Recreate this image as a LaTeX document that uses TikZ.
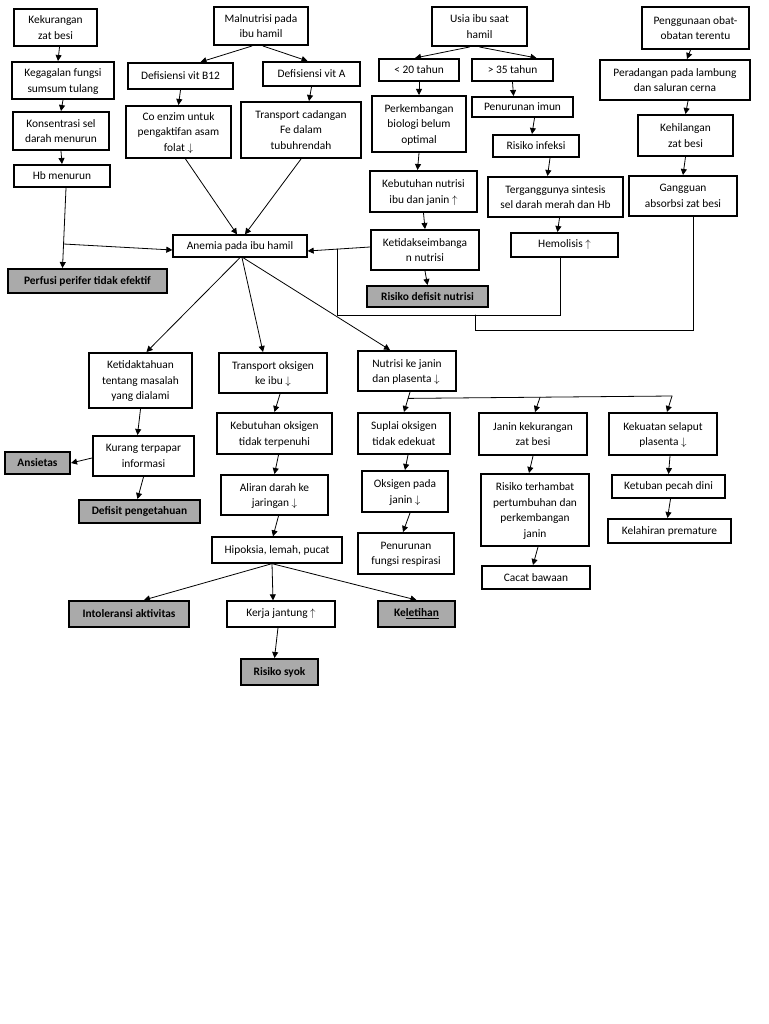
\documentclass[tikz,border=0pt]{standalone}
\usepackage{fontspec}
\setmainfont{Carlito}
\usetikzlibrary{arrows.meta}
\definecolor{dxgray}{RGB}{170,170,170}

\begin{document}
\begin{tikzpicture}[x=1pt,y=-1pt,>={Triangle[length=6pt,width=6pt]},line cap=round,
  font=\fontsize{11.4}{15.5}\selectfont,
  box/.style={draw,line width=2pt,fill=white,align=center,inner sep=0pt},
  mbox/.style={box,text depth=-8pt},
  lbox/.style={box,line width=1.3pt},
  dx/.style={box,fill=dxgray,font=\fontsize{11.4}{15.5}\selectfont\bfseries},
  wh/.style 2 args={minimum width=#1,minimum height=#2},
  arr/.style={->,line width=0.8pt}]
\useasboundingbox (0,0) rectangle (768,1024);
% left column
\node[mbox,wh={83}{37}] (kurangfe) at (55.5,27.5) {Kekurangan\\zat besi};
\node[mbox,wh={102}{37}] (gagal) at (63,80.5) {Kegagalan fungsi\\sumsum tulang};
\node[mbox,wh={96}{38}] (konsen) at (61,131) {Konsentrasi sel\\darah menurun};
\node[box,wh={96}{22}] (hb) at (62,176) {Hb menurun};
\node[dx,wh={159}{24}] (perfusi) at (87.5,281) {Perfusi perifer tidak efektif};
% malnutrisi
\node[mbox,wh={94}{38}] (malnut) at (261,26) {Malnutrisi pada\\ibu hamil};
\node[box,wh={105}{26}] (b12) at (180.5,76) {Defisiensi vit B12};
\node[box,wh={97}{24}] (vita) at (311.5,74) {Defisiensi vit A};
\node[mbox,wh={105}{52}] (coenzim) at (178.5,132) {Co enzim untuk\\pengaktifan asam\\folat $\downarrow$};
\node[mbox,wh={120}{56}] (transfe) at (301,130) {Transport cadangan\\Fe dalam\\tubuhrendah};
\node[lbox,wh={134}{22}] (anemia) at (240,246) {Anemia pada ibu hamil};
% usia ibu
\node[mbox,wh={95}{39}] (usia) at (479.5,26.5) {Usia ibu saat\\hamil};
\node[box,wh={80}{22}] (kurang20) at (419,70) {< 20 tahun};
\node[box,wh={81}{22}] (lebih35) at (512.5,70) {> 35 tahun};
\node[mbox,wh={94}{56}] (perkemb) at (419,124) {Perkembangan\\biologi belum\\optimal};
\node[box,wh={101}{20}] (imun) at (522.5,107) {Penurunan imun};
\node[box,wh={86}{22}] (infeksi) at (536,146) {Risiko infeksi};
\node[mbox,wh={107}{41}] (butuhnut) at (423.5,191.5) {Kebutuhan nutrisi\\ibu dan janin $\uparrow$};
\node[mbox,wh={135}{40}] (sintesis) at (555.5,197) {Terganggunya sintesis\\sel darah merah dan Hb};
\node[mbox,wh={108}{40}] (seimbang) at (425,250) {Ketidakseimbanga\\n nutrisi};
\node[box,wh={107}{24}] (hemolisis) at (564.5,245) {Hemolisis $\uparrow$};
\node[dx,wh={121}{21}] (risdefnut) at (427.5,296.5) {Risiko defisit nutrisi};
% obat
\node[mbox,wh={107}{42}] (obat) at (695.5,28) {Penggunaan obat-\\obatan terentu};
\node[mbox,wh={150}{40}] (radang) at (675,80) {Peradangan pada lambung\\dan saluran cerna};
\node[mbox,wh={95}{41}] (hilangfe) at (685.5,135.5) {Kehilangan\\zat besi};
\node[mbox,wh={108}{40}] (gangguan) at (683,196) {Gangguan\\absorbsi zat besi};
% dampak
\node[mbox,wh={103}{55}] (tahu) at (140.5,380.5) {Ketidaktahuan\\tentang masalah\\yang dialami};
\node[mbox,wh={101}{40}] (terpapar) at (143.5,456) {Kurang terpapar\\informasi};
\node[dx,wh={65}{22}] (ansietas) at (37.5,463) {Ansietas};
\node[dx,wh={121}{23}] (defpeng) at (139.5,511.5) {Defisit pengetahuan};
\node[mbox,wh={108}{40}] (transox) at (273,373) {Transport oksigen\\ke ibu $\downarrow$};
\node[mbox,wh={115}{41}] (butuhox) at (274.5,433.5) {Kebutuhan oksigen\\tidak terpenuhi};
\node[mbox,wh={107}{40}] (aliran) at (274.5,495) {Aliran darah ke\\jaringan $\downarrow$};
\node[lbox,wh={130}{26}] (hipoksia) at (277,550) {Hipoksia, lemah, pucat};
\node[dx,wh={120}{26}] (intol) at (129,614) {Intoleransi aktivitas};
\node[lbox,wh={108}{26}] (jantung) at (281,614) {Kerja jantung $\uparrow$};
\node[dx,wh={77}{26}] (letih) at (416.5,614) {Ke\underline{letihan}};
\node[dx,wh={77}{26}] (syok) at (279.5,672) {Risiko syok};
\node[mbox,wh={98}{40},align=left] (nutjanin) at (407,371) {Nutrisi ke janin\\dan plasenta $\downarrow$};
\node[mbox,wh={92}{41}] (suplai) at (404,433.5) {Suplai oksigen\\tidak edekuat};
\node[mbox,wh={86}{41}] (oksjanin) at (405,491.5) {Oksigen pada\\janin $\downarrow$};
\node[mbox,wh={96}{41}] (respirasi) at (406,553.5) {Penurunan\\fungsi respirasi};
\node[mbox,wh={108}{42}] (janinfe) at (533,434) {Janin kekurangan\\zat besi};
\node[mbox,wh={108}{72}] (hambat) at (535,510) {Risiko terhambat\\pertumbuhan dan\\perkembangan\\janin};
\node[box,wh={108}{23}] (cacat) at (536,577.5) {Cacat bawaan};
\node[mbox,wh={108}{42}] (selaput) at (663,434) {Kekuatan selaput\\plasenta $\downarrow$};
\node[box,wh={113}{23}] (ketuban) at (668.5,486.5) {Ketuban pecah dini};
\node[box,wh={123}{24}] (prematur) at (669.5,531) {Kelahiran premature};
% arrows, upper half
\draw[arr] ([xshift=4]kurangfe.south) -- ([xshift=-5]gagal.north);
\draw[arr] (gagal.south) -- (konsen.north);
\draw[arr] (konsen.south) -- (hb.north);
\draw[arr] ([xshift=4]hb.south) -- coordinate[pos=0.7] (hbfork) ([xshift=-25]perfusi.north);
\draw[arr] (hbfork) -- ([yshift=-4]anemia.west);
\draw[arr] ([xshift=-9]malnut.south) -- ([xshift=20]b12.north);
\draw[arr] ([xshift=2]malnut.south) -- ([xshift=-4]vita.north);
\draw[arr] (b12.south) -- (coenzim.north);
\draw[arr] (vita.south) -- ([xshift=8]transfe.north);
\draw[arr] ([xshift=7]coenzim.south) -- ([xshift=-3]anemia.north);
\draw[arr] (transfe.south) -- ([xshift=5]anemia.north);
\draw[arr] ([xshift=-10]usia.south) -- ([xshift=-4]kurang20.north);
\draw[arr] (usia.south) -- ([xshift=24]lebih35.north);
\draw[arr] (kurang20.south) -- (perkemb.north);
\draw[arr] (lebih35.south) -- ([xshift=-9]imun.north);
\draw[arr] ([xshift=12]imun.south) -- ([xshift=-4]infeksi.north);
\draw[arr] ([xshift=14]infeksi.south) -- ([xshift=-8]sintesis.north);
\draw[arr] (perkemb.south) -- ([xshift=-6]butuhnut.north);
\draw[arr] (butuhnut.south) -- (seimbang.north);
\draw[arr] (seimbang.south) -- (risdefnut.north);
\draw[arr] ([xshift=4]sintesis.south) -- ([xshift=-7]hemolisis.north);
\draw[arr] ([yshift=3]seimbang.west) -- coordinate[pos=0.52] (seimfork) ([yshift=-5]anemia.east);
\draw[line width=0.8pt] (seimfork) -- ++(0,66) -| coordinate[pos=0.31] (brfork) ([xshift=-4]hemolisis.south);
\draw[line width=0.8pt] (brfork) -- ++(0,15) -| ([xshift=10]gangguan.south);
\draw[arr] ([xshift=-5]obat.south) -- ([xshift=12]radang.north);
\draw[arr] ([xshift=13]radang.south) -- (hilangfe.north);
\draw[arr] (hilangfe.south) -- (gangguan.north);
% arrows, lower half
\draw[arr] (anemia.south) -- ([xshift=6]tahu.north);
\draw[arr] ([xshift=2]anemia.south) -- ([xshift=-10]transox.north);
\draw[arr] ([xshift=3]anemia.south) -- ([xshift=-17]nutjanin.north);
\draw[arr] (tahu.south) -- ([xshift=-6]terpapar.north);
\draw[arr] ([yshift=-2]terpapar.west) -- (ansietas.east);
\draw[arr] (terpapar.south) -- ([xshift=-2]defpeng.north);
\draw[arr] ([xshift=7]transox.south) -- (butuhox.north);
\draw[arr] ([xshift=4]butuhox.south) -- (aliran.north);
\draw[arr] ([xshift=4]aliran.south) -- ([xshift=-4]hipoksia.north);
\draw[arr] ([xshift=-5]hipoksia.south) -- ([xshift=15]intol.north);
\draw[arr] ([xshift=-5]hipoksia.south) -- ([xshift=-8]jantung.north);
\draw[arr] ([xshift=-5]hipoksia.south) -- (letih.north);
\draw[arr] ([xshift=-3]jantung.south) -- ([xshift=-5]syok.north);
\draw[arr] ([xshift=3]nutjanin.south) -- coordinate[pos=0.32] (nutfork) (suplai.north);
\coordinate (nutend) at (672,396);
\draw[line width=0.8pt] (nutfork) -- coordinate[pos=0.5] (janfork) (nutend);
\draw[arr] (janfork) -- ([xshift=2]janinfe.north);
\draw[arr] (nutend) -- ([xshift=4]selaput.north);
\draw[arr] ([xshift=4]suplai.south) -- (oksjanin.north);
\draw[arr] ([xshift=5]oksjanin.south) -- ([xshift=-3]respirasi.north);
\draw[arr] (janinfe.south) -- ([xshift=-6]hambat.north);
\draw[arr] ([xshift=3]hambat.south) -- ([xshift=-3]cacat.north);
\draw[arr] ([xshift=7]selaput.south) -- (ketuban.north);
\draw[arr] ([xshift=2]ketuban.south) -- ([xshift=-2]prematur.north);
\end{tikzpicture}
\end{document}
